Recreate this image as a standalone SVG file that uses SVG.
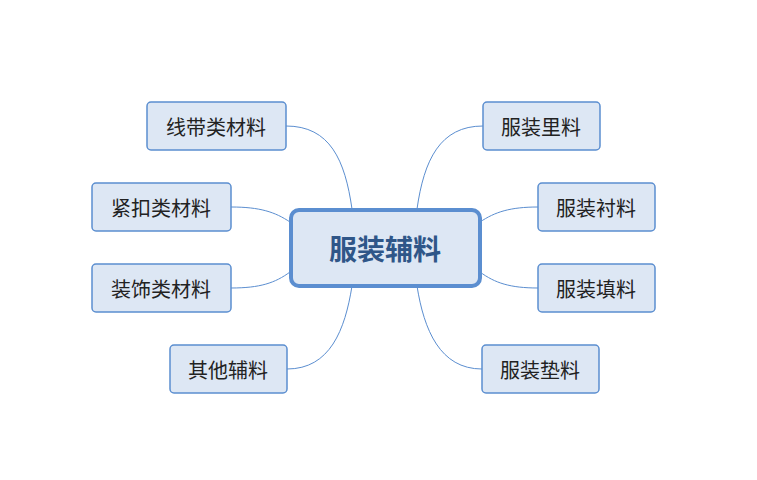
<svg xmlns="http://www.w3.org/2000/svg" width="757" height="480" viewBox="0 0 757 480">
<style>
.n rect{fill:#dde7f4;stroke:#5b8ed0;stroke-width:1.5}
.n text{font-family:"Noto Sans CJK SC","Liberation Sans",sans-serif;font-size:20px;fill:#222;text-anchor:middle;dominant-baseline:central}
#links path{fill:none;stroke:#5b8ed0;stroke-width:1}
</style>
<rect width="757" height="480" fill="#fff"/>
<g id="links">
<path d="M352,209 C345,160 330,126 286,126"/>
<path d="M290,222 C275,212 260,207 231,207"/>
<path d="M290,272 C275,283 260,288 231,288"/>
<path d="M352,286 C345,330 330,369 287,369"/>
<path d="M417,209 C424,160 440,126 483,126"/>
<path d="M480,222 C495,212 510,207 538,207"/>
<path d="M480,272 C495,283 510,288 538,288"/>
<path d="M417,286 C424,330 440,369 482,369"/>
</g>
<g id="center" class="n"><rect x="291" y="210" width="189" height="76" rx="8" style="stroke-width:4"/><text x="385" y="248" style="font-size:28px;font-weight:bold;fill:#2f5688">服装辅料</text></g>
<g id="n1" class="n"><rect x="147" y="102" width="139" height="48" rx="4"/><text x="216" y="126">线带类材料</text></g>
<g id="n2" class="n"><rect x="92" y="183" width="139" height="48" rx="4"/><text x="161" y="207">紧扣类材料</text></g>
<g id="n3" class="n"><rect x="92" y="264" width="139" height="48" rx="4"/><text x="161" y="288">装饰类材料</text></g>
<g id="n4" class="n"><rect x="170" y="345" width="117" height="48" rx="4"/><text x="228" y="369">其他辅料</text></g>
<g id="n5" class="n"><rect x="483" y="102" width="117" height="48" rx="4"/><text x="541" y="126">服装里料</text></g>
<g id="n6" class="n"><rect x="538" y="183" width="117" height="48" rx="4"/><text x="596" y="207">服装衬料</text></g>
<g id="n7" class="n"><rect x="538" y="264" width="117" height="48" rx="4"/><text x="596" y="288">服装填料</text></g>
<g id="n8" class="n"><rect x="482" y="345" width="117" height="48" rx="4"/><text x="540" y="369">服装垫料</text></g>
</svg>
